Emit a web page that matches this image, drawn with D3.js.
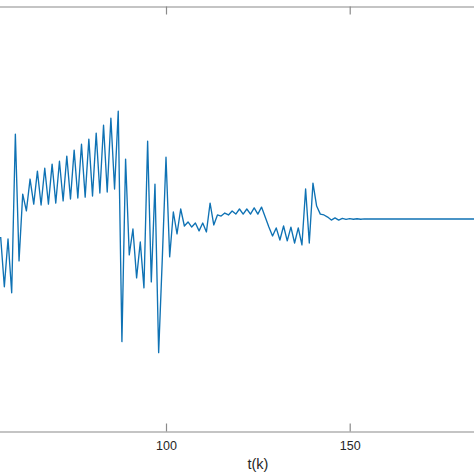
<!DOCTYPE html>
<html>
<head>
    <title>t(k) response</title>
    <script src="https://d3js.org/d3.v7.min.js"></script>
    <style>
        body {
            margin: 0;
            background: #fff;
        }
        svg {
            display: block;
        }
        .tick text {
            font-family: "Liberation Sans", Arial, sans-serif;
            font-size: 12.5px;
            fill: #262626;
        }
    </style>
</head>
<body>
    <div id="chart"></div>
    <script>
        // sample index where the series starts, one value per step
        const startK = 55;
        const series = [
            -0.85, -3.19, -0.94, -3.47, 3.99, -1.97, 1.17, 0.38, 1.88, 0.70,
            2.25, 0.66, 2.39, 0.70, 2.58, 0.75, 2.72, 0.85, 2.96, 0.94,
            3.24, 0.99, 3.52, 1.03, 3.76, 1.08, 4.04, 1.22, 4.41, 1.27,
            4.74, 1.41, 5.07, -5.77, 2.82, -1.69, -0.47, -2.77, -1.08, -3.24,
            3.66, -2.96, 1.64, -6.29, -1.83, 2.91, -1.78, 0.33, -0.70, 0.47,
            -0.33, -0.14, -0.38, -0.19, -0.56, -0.19, -0.61, 0.75, -0.28, 0.19,
            0.14, 0.28, 0.19, 0.38, 0.23, 0.47, 0.23, 0.47, 0.23, 0.52,
            0.23, 0.56, 0.09, -0.38, -0.80, -0.42, -0.99, -0.33, -1.03, -0.38,
            -1.13, -0.42, -1.22, 1.41, -1.13, 1.69, 0.61, 0.23, 0.19, 0.09,
            -0.05, 0.05, -0.05, 0.03, -0.02, 0.02, -0.01, 0.01, -0.01, 0.005,
            0, 0, 0, 0, 0, 0, 0, 0, 0, 0,
            0, 0, 0, 0, 0, 0, 0, 0, 0, 0,
            0, 0, 0, 0, 0, 0, 0, 0, 0, 0,
            0, 0, 0, 0, 0, 0, 0, 0, 0, 0,
            0, 0, 0, 0, 0, 0
        ];
        // only these two ticks fall inside the visible window
        const xTicks = [100, 150];
        const xLabel = "t(k)";

        const width = 474, height = 474;
        const data = series.map((v, i) => ({k: startK + i, v: v}));

        const svg = d3.select('#chart')
            .append('svg')
            .attr('width', width)
            .attr('height', height);

        // the axes box is wider than the window, so its sides fall outside
        const x = d3.scaleLinear()
            .domain([50, 200])
            .range([-17.7, 533.4]);

        const y = d3.scaleLinear()
            .domain([-10, 10])
            .range([431.5, 6.5]);

        const line = d3.line()
            .x(d => x(d.k))
            .y(d => y(d.v));

        svg.append('path')
            .datum(data)
            .attr('fill', 'none')
            .attr('stroke', '#0f72b4')
            .attr('stroke-width', 1.35)
            .attr('stroke-linejoin', 'round')
            .attr('d', line);

        svg.append('g')
            .attr('transform', 'translate(0,431.5)')
            .call(d3.axisBottom(x).tickValues(xTicks).tickSize(-8).tickSizeOuter(0).tickPadding(9.6));

        svg.append('g')
            .attr('transform', 'translate(0,6.5)')
            .call(d3.axisTop(x).tickValues(xTicks).tickSize(-8).tickSizeOuter(0).tickFormat(''));

        svg.selectAll('.domain, .tick line')
            .attr('stroke', '#8a8a8a')
            .attr('stroke-width', 1.2);

        svg.append('text')
            .attr('x', (x(50) + x(200)) / 2)
            .attr('y', 469)
            .attr('text-anchor', 'middle')
            .attr('font-family', '"Liberation Sans", Arial, sans-serif')
            .attr('font-size', 14.5)
            .attr('fill', '#262626')
            .text(xLabel);
    </script>
</body>
</html>
